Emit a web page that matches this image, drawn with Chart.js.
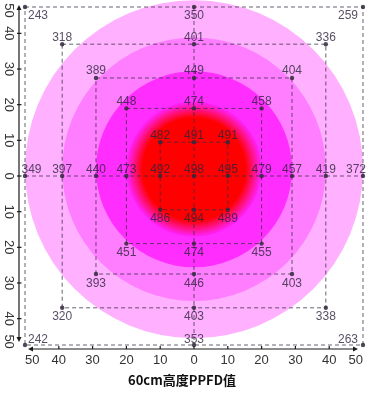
<!DOCTYPE html>
<html>
<head>
<meta charset="utf-8">
<script src="https://cdn.jsdelivr.net/npm/chart.js@4.4.1/dist/chart.umd.min.js"></script>
<style>
  html, body { margin: 0; padding: 0; background: #fff; }
</style>
</head>
<body>
<canvas id="ppfd" width="367" height="400"></canvas>
<script>
// measuring grid (cm from lamp centre) and PPFD readings at 60cm height
const POINT_X = [-50, 0, 50, -39, 0, 39, -29, 0, 29, -20, 0, 20, -10, 0, 10,
  -50, -39, -29, -20, -10, 0, 10, 20, 29, 39, 50,
  -10, 0, 10, -20, 0, 20, -29, 0, 29, -39, 0, 39, -50, 0, 50];
const POINT_Y = [50, 50, 50, 39, 39, 39, 29, 29, 29, 20, 20, 20, 10, 10, 10,
  0, 0, 0, 0, 0, 0, 0, 0, 0, 0, 0,
  -10, -10, -10, -20, -20, -20, -29, -29, -29, -39, -39, -39, -50, -50, -50];
const PPFD = [243, 350, 259, 318, 401, 336, 389, 449, 404, 448, 474, 458, 482, 491, 491,
  349, 397, 440, 473, 492, 498, 495, 479, 457, 419, 372,
  486, 494, 489, 451, 474, 455, 393, 446, 403, 320, 403, 338, 242, 353, 263];

// dashed squares (half side) and the light rings behind
const SQUARES = [50, 39, 29, 20, 10];
const RING_RADII = [50, 39, 29, 20];
const RING_COLORS = ['#ffb0ff', '#ff7dff', '#ff2eff'];
const RING_CENTER_Y = 2;

const X_TICKS = [-50, -40, -30, -20, -10, 0, 10, 20, 30, 40, 50];
const Y_TICKS = [50, 40, 30, 20, 10, 0, -10, -20, -30, -40, -50];
const Y_TICK_LABELS = ['50', '40', '30', '20', '10', '0', '10', '20', '30', '40', '50'];
const Y_LABEL_STRETCH = 1.055;

const LINE_COLOR = 'rgba(55, 45, 65, 0.75)';
const LABEL_COLOR = 'rgba(45, 35, 60, 0.8)';
const FONT = '"Liberation Sans", Arial, sans-serif';

const points = POINT_X.map((x, i) => ({ x: x, y: POINT_Y[i] }));

function squareData(h) {
  return [{ x: -h, y: h }, { x: h, y: h }, { x: h, y: -h }, { x: -h, y: -h }, { x: -h, y: h }];
}

const lineSets = SQUARES.map(h => ({
  data: squareData(h),
  showLine: true,
  borderColor: LINE_COLOR,
  borderWidth: 1,
  borderDash: [4, 3],
  pointRadius: 0,
  clip: false
}));
lineSets.push({
  data: [{ x: -50, y: 0 }, { x: 50, y: 0 }],
  showLine: true, borderColor: LINE_COLOR, borderWidth: 1, borderDash: [4, 3], pointRadius: 0, clip: false
});
lineSets.push({
  data: [{ x: 0, y: 50 }, { x: 0, y: -50 }],
  showLine: true, borderColor: LINE_COLOR, borderWidth: 1, borderDash: [4, 3], pointRadius: 0, clip: false
});

// rings drawn under everything
const ringsPlugin = {
  id: 'rings',
  beforeDatasetsDraw(chart) {
    const { ctx, scales: { x, y } } = chart;
    const cx = x.getPixelForValue(0);
    const cy = y.getPixelForValue(RING_CENTER_Y);
    const unit = x.getPixelForValue(1) - cx;
    ctx.save();
    RING_RADII.forEach((r, i) => {
      const rp = r * unit;
      ctx.beginPath();
      ctx.arc(cx, cy, rp, 0, Math.PI * 2);
      if (i === RING_RADII.length - 1) {
        const g = ctx.createRadialGradient(cx, cy, 0, cx, cy, rp);
        g.addColorStop(0, '#ff0000');
        g.addColorStop(0.76, '#ff0000');
        g.addColorStop(1, '#ff22ff');
        ctx.fillStyle = g;
      } else {
        ctx.fillStyle = RING_COLORS[i];
      }
      ctx.fill();
    });
    ctx.restore();
  }
};

// value labels next to each dot
const labelPlugin = {
  id: 'ppfdLabels',
  afterDatasetsDraw(chart) {
    const ctx = chart.ctx;
    const meta = chart.getDatasetMeta(chart.data.datasets.length - 1);
    ctx.save();
    ctx.font = '12px ' + FONT;
    ctx.fillStyle = LABEL_COLOR;
    ctx.textBaseline = 'alphabetic';
    meta.data.forEach((pt, i) => {
      const xv = POINT_X[i], yv = POINT_Y[i];
      let tx = pt.x, ty;
      let align = 'center';
      if (yv === 50) ty = pt.y + 12;
      else if (yv === -50) ty = pt.y - 2.5;
      else if (yv < 0) ty = pt.y + 12.6;
      else ty = pt.y - 3.5;
      if (Math.abs(xv) === 50 && Math.abs(yv) === 50) {
        align = xv < 0 ? 'left' : 'right';
        tx = pt.x + (xv < 0 ? 3 : -5);
      } else if (Math.abs(xv) === 50) {
        tx = pt.x + (xv < 0 ? 6.5 : -7);
      }
      ctx.textAlign = align;
      ctx.fillText(String(PPFD[i]), tx, ty);
    });
    ctx.restore();
  }
};

// arrowed axis lines, sitting just outside the plot box
const axisPlugin = {
  id: 'arrowAxes',
  afterDraw(chart) {
    const { ctx, chartArea: a, scales: { x, y } } = chart;
    ctx.save();
    ctx.strokeStyle = '#1a1a1a';
    ctx.fillStyle = '#1a1a1a';
    ctx.lineWidth = 1.2;
    const ax = a.left - 6;
    const y0 = a.top - 2, y1 = a.bottom - 3;
    ctx.beginPath();
    ctx.moveTo(ax, y0 + 3); ctx.lineTo(ax, y1 - 3);
    ctx.stroke();
    ctx.beginPath();
    ctx.moveTo(ax, y0); ctx.lineTo(ax - 2.5, y0 + 5); ctx.lineTo(ax + 2.5, y0 + 5); ctx.closePath();
    ctx.moveTo(ax, y1); ctx.lineTo(ax - 2.5, y1 - 5); ctx.lineTo(ax + 2.5, y1 - 5); ctx.closePath();
    ctx.fill();
    y.ticks.forEach((t, i) => {
      if (i === 0 || i === y.ticks.length - 1) return;
      const py = y.getPixelForValue(t.value);
      ctx.beginPath(); ctx.moveTo(ax - 2, py); ctx.lineTo(ax + 2.5, py); ctx.stroke();
    });

    const ay = a.bottom + 4;
    const x0 = a.left + 3, x1 = a.right - 5;
    ctx.beginPath();
    ctx.moveTo(x0 + 3, ay); ctx.lineTo(x1 - 3, ay);
    ctx.stroke();
    ctx.beginPath();
    ctx.moveTo(x0, ay); ctx.lineTo(x0 + 5, ay - 2.5); ctx.lineTo(x0 + 5, ay + 2.5); ctx.closePath();
    ctx.moveTo(x1, ay); ctx.lineTo(x1 - 5, ay - 2.5); ctx.lineTo(x1 - 5, ay + 2.5); ctx.closePath();
    ctx.fill();
    x.ticks.forEach((t, i) => {
      if (i === 0 || i === x.ticks.length - 1) return;
      const px = x.getPixelForValue(t.value);
      ctx.beginPath(); ctx.moveTo(px, ay); ctx.lineTo(px, ay - 3); ctx.stroke();
    });
    ctx.restore();
  }
};

new Chart(document.getElementById('ppfd'), {
  type: 'scatter',
  data: {
    datasets: lineSets.concat([{
      data: points,
      pointRadius: 2.2,
      pointBackgroundColor: 'rgba(50, 40, 60, 0.85)',
      pointBorderWidth: 0,
      clip: false
    }])
  },
  options: {
    responsive: false,
    animation: false,
    devicePixelRatio: 1,
    layout: { padding: { top: 7, right: 3, left: 0, bottom: 0 } },
    plugins: {
      legend: { display: false },
      tooltip: { enabled: false },
      title: {
        display: true,
        position: 'bottom',
        text: '60cm高度PPFD值',
        color: '#111',
        font: { family: '"Noto Sans CJK SC", sans-serif', size: 13, weight: 'bold', lineHeight: 1.2 },
        padding: { top: 5, bottom: 12 }
      }
    },
    scales: {
      x: {
        type: 'linear',
        min: -50, max: 50,
        grid: { display: false, drawTicks: false },
        border: { display: false },
        afterBuildTicks: s => { s.ticks = X_TICKS.map(v => ({ value: v })); },
        afterFit: s => { s.height = 22.4; s.paddingLeft = 0; s.paddingRight = 0; },
        ticks: {
          align: 'inner',
          padding: 8,
          color: '#333',
          font: { family: FONT, size: 13 },
          maxRotation: 0,
          callback: v => String(Math.abs(v))
        }
      },
      y: {
        type: 'linear',
        min: -50, max: 50,
        grid: { display: false, drawTicks: false },
        border: { display: false },
        afterBuildTicks: s => {
          s.ticks = Y_TICKS.map(v => ({ value: Math.max(-49, Math.min(49, v * Y_LABEL_STRETCH)) }));
        },
        afterFit: s => { s.width = 25; s.paddingTop = 0; s.paddingBottom = 0; },
        ticks: {
          crossAlign: 'center',
          padding: 9,
          minRotation: -90,
          maxRotation: -90,
          color: '#333',
          font: { family: FONT, size: 13 },
          callback: (v, i) => Y_TICK_LABELS[i]
        }
      }
    }
  },
  plugins: [ringsPlugin, labelPlugin, axisPlugin]
});
</script>
</body>
</html>
